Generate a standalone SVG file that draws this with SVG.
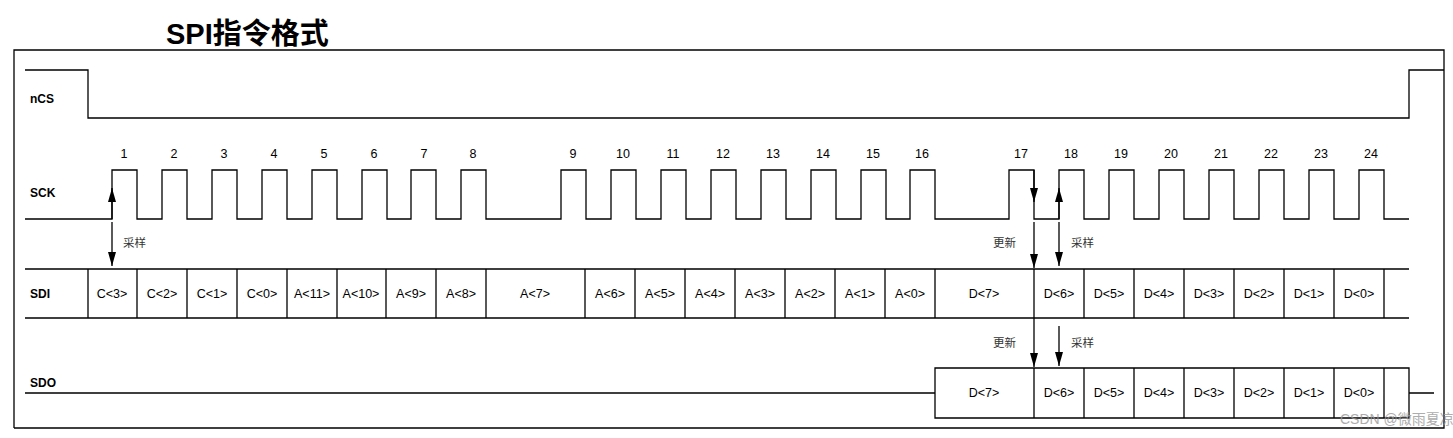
<svg xmlns="http://www.w3.org/2000/svg" width="1453" height="438" viewBox="0 0 1453 438">
<defs>
<marker id="ah" viewBox="0 0 14 8" refX="14" refY="4" markerWidth="14" markerHeight="8" markerUnits="userSpaceOnUse" orient="auto"><path d="M0,0 L14,4 L0,8 z" fill="#000"/></marker>
<style>
.w{fill:none;stroke:#000;stroke-width:1.3}
.a{stroke:#000;stroke-width:1.3;marker-end:url(#ah)}
.sig{font-family:"Liberation Sans",Arial,sans-serif;font-size:12px;font-weight:bold}
.c{font-family:"Liberation Sans",Arial,sans-serif;font-size:12.5px;text-anchor:middle}
.n{font-family:"Liberation Sans",Arial,sans-serif;font-size:12.5px;text-anchor:middle}
.cn{font-family:"Noto Sans CJK SC",sans-serif;font-size:11.5px;fill:#333}
</style>
</defs>
<rect width="1453" height="438" fill="#fff"/>
<text x="166" y="44" font-family="'Liberation Sans','Noto Sans CJK SC',sans-serif" font-size="29" font-weight="bold">SPI指令格式</text>
<path class="w" d="M14,428 V50 H1444 V428 H14" />
<g id="nCS"><text class="sig" x="30" y="103">nCS</text><path class="w" d="M25,70 H88 V118 H1409 V70 H1444"/></g>
<g id="SCK"><text class="sig" x="30" y="197">SCK</text>
<path class="w" d="M25,219 H112 V170 H137 V219 H162 V170 H187 V219 H212 V170 H237 V219 H262 V170 H287 V219 H312 V170 H337 V219 H362 V170 H387 V219 H411 V170 H436 V219 H461 V170 H486 V219 H561 V170 H586 V219 H611 V170 H636 V219 H661 V170 H686 V219 H711 V170 H736 V219 H761 V170 H786 V219 H811 V170 H836 V219 H861 V170 H886 V219 H910 V170 H935 V219 H1009 V170 H1034 V219 H1059 V170 H1084 V219 H1109 V170 H1134 V219 H1159 V170 H1184 V219 H1209 V170 H1234 V219 H1259 V170 H1284 V219 H1309 V170 H1334 V219 H1359 V170 H1384 V219 H1409"/>
<g class="n"><text x="124" y="158">1</text><text x="174" y="158">2</text><text x="224" y="158">3</text><text x="274" y="158">4</text><text x="324" y="158">5</text><text x="374" y="158">6</text><text x="424" y="158">7</text><text x="473" y="158">8</text><text x="573" y="158">9</text><text x="623" y="158">10</text><text x="673" y="158">11</text><text x="723" y="158">12</text><text x="773" y="158">13</text><text x="823" y="158">14</text><text x="873" y="158">15</text><text x="922" y="158">16</text><text x="1021" y="158">17</text><text x="1071" y="158">18</text><text x="1121" y="158">19</text><text x="1171" y="158">20</text><text x="1221" y="158">21</text><text x="1271" y="158">22</text><text x="1321" y="158">23</text><text x="1371" y="158">24</text></g>
</g>
<g id="SDI"><text class="sig" x="30" y="298">SDI</text>
<path class="w" d="M25,269 H1409 M25,318 H1409 M88,269 V318 M137,269 V318 M187,269 V318 M237,269 V318 M287,269 V318 M337,269 V318 M386,269 V318 M436,269 V318 M486,269 V318 M585,269 V318 M635,269 V318 M685,269 V318 M735,269 V318 M785,269 V318 M835,269 V318 M885,269 V318 M935,269 V318 M1084,269 V318 M1134,269 V318 M1184,269 V318 M1234,269 V318 M1284,269 V318 M1334,269 V318 M1384,269 V318"/>
<g class="c"><text x="112" y="298">C&lt;3&gt;</text><text x="162" y="298">C&lt;2&gt;</text><text x="212" y="298">C&lt;1&gt;</text><text x="262" y="298">C&lt;0&gt;</text><text x="312" y="298">A&lt;11&gt;</text><text x="361" y="298">A&lt;10&gt;</text><text x="411" y="298">A&lt;9&gt;</text><text x="461" y="298">A&lt;8&gt;</text><text x="535" y="298">A&lt;7&gt;</text><text x="610" y="298">A&lt;6&gt;</text><text x="660" y="298">A&lt;5&gt;</text><text x="710" y="298">A&lt;4&gt;</text><text x="760" y="298">A&lt;3&gt;</text><text x="810" y="298">A&lt;2&gt;</text><text x="860" y="298">A&lt;1&gt;</text><text x="910" y="298">A&lt;0&gt;</text><text x="984" y="298">D&lt;7&gt;</text><text x="1059" y="298">D&lt;6&gt;</text><text x="1109" y="298">D&lt;5&gt;</text><text x="1159" y="298">D&lt;4&gt;</text><text x="1209" y="298">D&lt;3&gt;</text><text x="1259" y="298">D&lt;2&gt;</text><text x="1309" y="298">D&lt;1&gt;</text><text x="1359" y="298">D&lt;0&gt;</text></g>
</g>
<g id="SDO"><text class="sig" x="30" y="387">SDO</text>
<path class="w" d="M25,393 H935 M935,368 H1409 V418 H935 Z M1034,368 V418 M1084,368 V418 M1134,368 V418 M1184,368 V418 M1234,368 V418 M1284,368 V418 M1334,368 V418 M1384,368 V418 M1409,393 H1434"/>
<g class="c"><text x="984" y="397">D&lt;7&gt;</text><text x="1059" y="397">D&lt;6&gt;</text><text x="1109" y="397">D&lt;5&gt;</text><text x="1159" y="397">D&lt;4&gt;</text><text x="1209" y="397">D&lt;3&gt;</text><text x="1259" y="397">D&lt;2&gt;</text><text x="1309" y="397">D&lt;1&gt;</text><text x="1359" y="397">D&lt;0&gt;</text></g>
</g>
<g id="connectors">
<line class="a" x1="112" y1="219" x2="112" y2="188"/>
<line class="a" x1="112" y1="222" x2="112" y2="266"/>
<line class="a" x1="1034" y1="170" x2="1034" y2="202"/>
<line class="a" x1="1034" y1="222" x2="1034" y2="268"/>
<line class="a" x1="1059" y1="219" x2="1059" y2="188"/>
<line class="a" x1="1059" y1="222" x2="1059" y2="266"/>
<line class="a" x1="1034" y1="269" x2="1034" y2="367"/>
<line class="a" x1="1059" y1="326" x2="1059" y2="366"/>
</g>
<g class="cn"><text x="123" y="247">采样</text><text x="993" y="247">更新</text><text x="1071" y="247">采样</text><text x="993" y="347">更新</text><text x="1071" y="347">采样</text></g>
<text x="1340" y="424" font-family="'Liberation Sans','Noto Sans CJK SC',sans-serif" font-size="14" fill="#999" opacity="0.8">CSDN @微雨夏凉</text>
</svg>
